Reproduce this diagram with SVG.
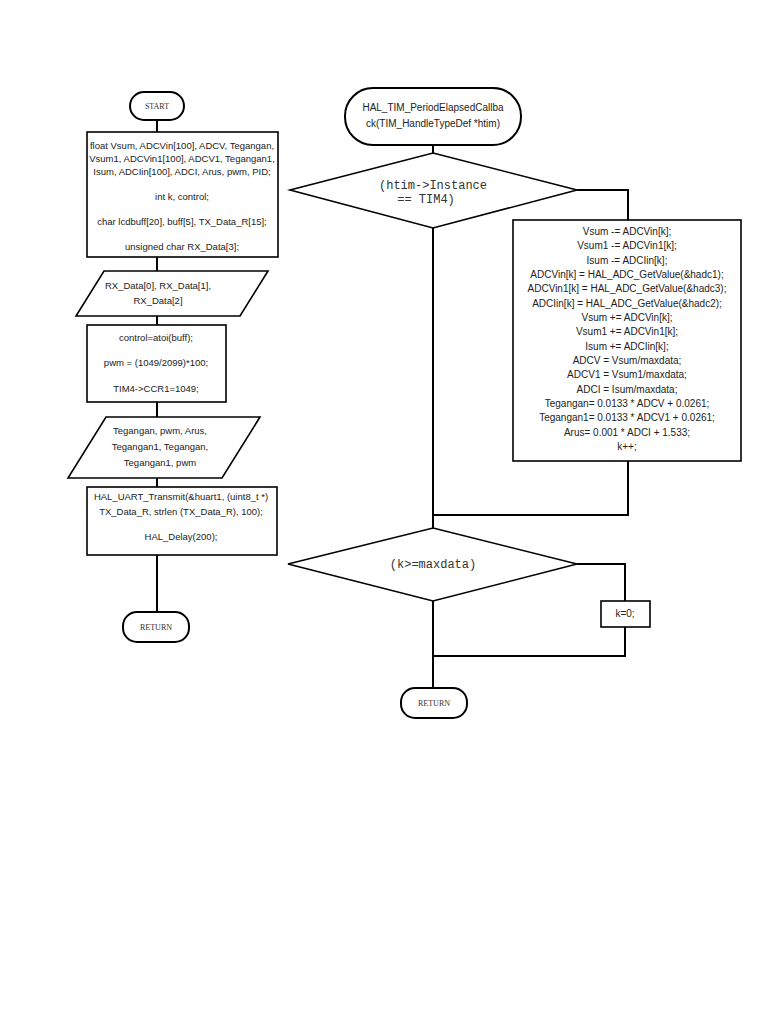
<svg xmlns="http://www.w3.org/2000/svg" width="768" height="1024" viewBox="0 0 768 1024">
<style>
.shape{fill:#fff;stroke:#000;stroke-width:1.6}
.term{fill:#fff;stroke:#000;stroke-width:2}
.conn{fill:none;stroke:#000;stroke-width:2}
.t{font-family:"Liberation Sans",Arial,sans-serif;font-size:9.5px;fill:#222;text-anchor:middle}
.b{font-size:10px}
.s{font-family:"Liberation Serif","Times New Roman",serif;font-size:8px;fill:#333;text-anchor:middle}
.m{font-family:"Liberation Mono","Courier New",monospace;font-size:12px;fill:#333;text-anchor:middle}
</style>
<rect width="768" height="1024" fill="#fff"/>
<g id="connectors">
<path class="conn" d="M157 120V132M157 257V271M157 316V325M157 402V417M157 478V487M157 555V612"/>
<path class="conn" d="M433 145V153M433 228V528M433 601V688"/>
<path class="conn" d="M577 190H628V220M628 461V515H433"/>
<path class="conn" d="M577 564H625V601M625 627V656H433"/>
</g>
<g id="start">
<rect class="term" x="130" y="92" width="54" height="28" rx="14"/>
<text class="s" x="157" y="109">START</text>
</g>
<g id="decl">
<rect class="shape" x="87" y="132" width="191" height="125"/>
<text class="t" x="182" y="149">float Vsum, ADCVin[100], ADCV, Tegangan,</text>
<text class="t" x="182" y="162">Vsum1, ADCVin1[100], ADCV1, Tegangan1,</text>
<text class="t" x="182" y="175">Isum, ADCIin[100], ADCI, Arus, pwm, PID;</text>
<text class="t" x="182" y="200">int k, control;</text>
<text class="t" x="182" y="225">char lcdbuff[20], buff[5], TX_Data_R[15];</text>
<text class="t" x="182" y="250">unsigned char RX_Data[3];</text>
</g>
<g id="input1">
<polygon class="shape" points="104,271 268,271 240,316 76,316"/>
<text class="t" x="158" y="289">RX_Data[0], RX_Data[1],</text>
<text class="t" x="158" y="304">RX_Data[2]</text>
</g>
<g id="proc1">
<rect class="shape" x="87" y="325" width="139" height="77"/>
<text class="t" x="156" y="341">control=atoi(buff);</text>
<text class="t" x="156" y="366">pwm = (1049/2099)*100;</text>
<text class="t" x="156" y="392">TIM4-&gt;CCR1=1049;</text>
</g>
<g id="output1">
<polygon class="shape" points="106,417 260,417 222,478 68,478"/>
<text class="t" x="160" y="434">Tegangan, pwm, Arus,</text>
<text class="t" x="160" y="450">Tegangan1, Tegangan,</text>
<text class="t" x="160" y="466">Tegangan1, pwm</text>
</g>
<g id="uart">
<rect class="shape" x="87" y="487" width="190" height="68"/>
<text class="t" x="181" y="500">HAL_UART_Transmit(&amp;huart1, (uint8_t *)</text>
<text class="t" x="181" y="515">TX_Data_R, strlen (TX_Data_R), 100);</text>
<text class="t" x="181" y="540">HAL_Delay(200);</text>
</g>
<g id="return1">
<rect class="term" x="123" y="612" width="66" height="30" rx="14"/>
<text class="s" x="156" y="630">RETURN</text>
</g>
<g id="callback">
<rect class="term" x="345" y="88" width="176" height="57" rx="28"/>
<text class="t b" x="433" y="111">HAL_TIM_PeriodElapsedCallba</text>
<text class="t b" x="433" y="127">ck(TIM_HandleTypeDef *htim)</text>
</g>
<g id="cond1">
<polygon class="shape" points="433,153 577,190 433,228 290,190"/>
<text class="m" x="433" y="189">(htim-&gt;Instance</text>
<text class="m" x="426" y="203">== TIM4)</text>
</g>
<g id="adc">
<rect class="shape" x="513" y="220" width="228" height="241"/>
<text class="t b" x="627" y="235">Vsum -= ADCVin[k];</text>
<text class="t b" x="627" y="249">Vsum1 -= ADCVin1[k];</text>
<text class="t b" x="627" y="264">Isum -= ADCIin[k];</text>
<text class="t b" x="627" y="278">ADCVin[k] = HAL_ADC_GetValue(&amp;hadc1);</text>
<text class="t b" x="627" y="292">ADCVin1[k] = HAL_ADC_GetValue(&amp;hadc3);</text>
<text class="t b" x="627" y="307">ADCIin[k] = HAL_ADC_GetValue(&amp;hadc2);</text>
<text class="t b" x="627" y="321">Vsum += ADCVin[k];</text>
<text class="t b" x="627" y="335">Vsum1 += ADCVin1[k];</text>
<text class="t b" x="627" y="350">Isum += ADCIin[k];</text>
<text class="t b" x="627" y="364">ADCV = Vsum/maxdata;</text>
<text class="t b" x="627" y="378">ADCV1 = Vsum1/maxdata;</text>
<text class="t b" x="627" y="393">ADCI = Isum/maxdata;</text>
<text class="t b" x="627" y="407">Tegangan= 0.0133 * ADCV + 0.0261;</text>
<text class="t b" x="627" y="421">Tegangan1= 0.0133 * ADCV1 + 0.0261;</text>
<text class="t b" x="627" y="436">Arus= 0.001 * ADCI + 1.533;</text>
<text class="t b" x="627" y="450">k++;</text>
</g>
<g id="cond2">
<polygon class="shape" points="433,528 577,564 433,601 288,564"/>
<text class="m" x="433" y="568">(k&gt;=maxdata)</text>
</g>
<g id="reset">
<rect class="shape" x="601" y="601" width="49" height="26"/>
<text class="t b" x="625" y="617">k=0;</text>
</g>
<g id="return2">
<rect class="term" x="401" y="688" width="66" height="30" rx="14"/>
<text class="s" x="434" y="706">RETURN</text>
</g>
</svg>
